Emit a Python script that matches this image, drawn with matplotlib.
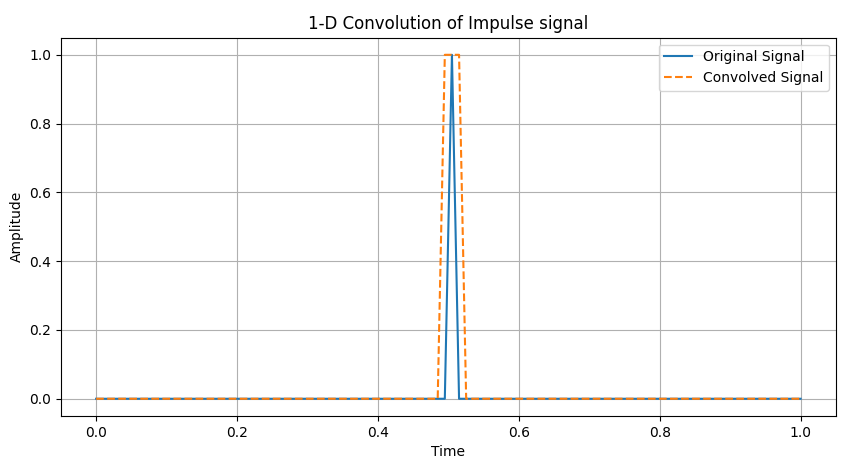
import matplotlib.pyplot as plt
import numpy as np

# 시간축: 0~1, 100개 샘플
time = np.linspace(0, 1, 100)

# 원 신호 (index 50 에 임펄스) 와 길이 3 커널로 합성곱한 결과
original_signal = [0.0] * 50 + [1.0] + [0.0] * 49
convolved_signal = [0.0] * 49 + [1.0, 1.0, 1.0] + [0.0] * 48

plt.figure(figsize=(8.46, 4.7), dpi=100)
plt.plot(time, original_signal, label='Original Signal')
plt.plot(time, convolved_signal, label='Convolved Signal', linestyle='--')
plt.title('1-D Convolution of Impulse signal')
plt.xlabel('Time')
plt.ylabel('Amplitude')
plt.legend()
plt.grid(True)
plt.subplots_adjust(left=0.072, right=0.988, top=0.92, bottom=0.115)
plt.savefig('out.png')
